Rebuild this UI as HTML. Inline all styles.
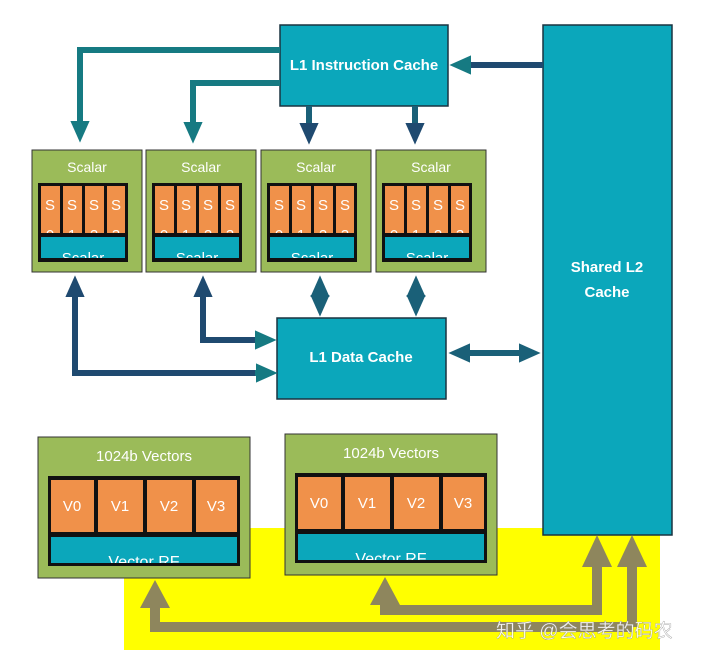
<!DOCTYPE html>
<html><head><meta charset="utf-8"><style>
html,body{margin:0;padding:0;background:#fff;}
svg{display:block;font-family:"Liberation Sans","Noto Sans CJK SC",sans-serif;}
</style></head><body>
<svg width="712" height="661" viewBox="0 0 712 661" xmlns="http://www.w3.org/2000/svg">
<defs>
<marker id="ta" markerWidth="4" markerHeight="4" refX="2" refY="2" orient="auto" markerUnits="strokeWidth"><path d="M0,0.4 L3.6,2 L0,3.6 z" fill="#167a82"/></marker>
<marker id="tb" markerWidth="4" markerHeight="4" refX="2" refY="2" orient="auto" markerUnits="strokeWidth"><path d="M0,0.4 L3.6,2 L0,3.6 z" fill="#1f4a70"/></marker>
<marker id="tbs" markerWidth="4" markerHeight="4" refX="2" refY="2" orient="auto-start-reverse" markerUnits="strokeWidth"><path d="M0,0.4 L3.6,2 L0,3.6 z" fill="#1a6078"/></marker>
</defs>
<rect x="124" y="528" width="536" height="122" fill="#ffff00"/>
<rect x="543" y="25" width="129" height="510" fill="#0ba7bb" stroke="#1a3340" stroke-width="1.5"/>
<text x="607" y="272" text-anchor="middle" fill="#fff" font-size="15" font-weight="bold">Shared L2</text>
<text x="607" y="297" text-anchor="middle" fill="#fff" font-size="15" font-weight="bold">Cache</text>
<rect x="280" y="25" width="168" height="81" fill="#0ba7bb" stroke="#1a3340" stroke-width="1.5"/>
<text x="364" y="70" text-anchor="middle" fill="#fff" font-size="15" font-weight="bold">L1 Instruction Cache</text>
<rect x="277" y="318" width="169" height="81" fill="#0ba7bb" stroke="#1a3340" stroke-width="1.5"/>
<text x="361" y="362" text-anchor="middle" fill="#fff" font-size="15" font-weight="bold">L1 Data Cache</text>
<g fill="none" stroke-width="6">
<path d="M280,50 H80 V133" stroke="#167a82" marker-end="url(#ta)"/>
<path d="M280,83 H193 V134" stroke="#167a82" marker-end="url(#ta)"/>
<path d="M309,106 V135" stroke="#1a6078" marker-end="url(#tb)"/>
<path d="M415,106 V135" stroke="#1a6078" marker-end="url(#tb)"/>
<path d="M543,65 H459" stroke="#1f4a70" marker-end="url(#ta)"/>
<path d="M458,353 H531" stroke="#1a6078" marker-start="url(#tbs)" marker-end="url(#tbs)"/>
<path d="M320,285 V307" stroke="#1a6078" marker-start="url(#tbs)" marker-end="url(#tbs)"/>
<path d="M416,285 V307" stroke="#1a6078" marker-start="url(#tbs)" marker-end="url(#tbs)"/>
<path d="M268,373 H75 V285" stroke="#1f4a70" marker-end="url(#tb)"/>
<path d="M267,340 H203 V285" stroke="#1f4a70" marker-end="url(#tb)"/>
</g>
<path d="M255,373 H268" stroke="#167a82" stroke-width="6" marker-end="url(#ta)"/>
<path d="M255,340 H267" stroke="#167a82" stroke-width="6" marker-end="url(#ta)"/>
<g id="sc">
<rect x="32" y="150" width="110" height="122" fill="#9bbb59" stroke="#333" stroke-width="1"/>
<text x="87" y="172" text-anchor="middle" fill="#fff" font-size="14">Scalar</text>
<rect x="38" y="183" width="90" height="79" fill="#111"/>
<rect x="41" y="186" width="19" height="47" fill="#f0914a"/>
<rect x="63" y="186" width="19" height="47" fill="#f0914a"/>
<rect x="85" y="186" width="19" height="47" fill="#f0914a"/>
<rect x="107" y="186" width="18" height="47" fill="#f0914a"/>
<g fill="#fff" font-size="15" text-anchor="middle"><text x="50" y="210">S</text><text x="72" y="210">S</text><text x="94" y="210">S</text><text x="116" y="210">S</text>
<text x="50" y="240">0</text><text x="72" y="240">1</text><text x="94" y="240">2</text><text x="116" y="240">3</text></g>
<rect x="40" y="233" width="86" height="4" fill="#111"/>
<rect x="41" y="237" width="84" height="21" fill="#0ba7bb"/>
<svg x="41" y="237" width="84" height="21"><text x="42" y="26" text-anchor="middle" fill="#fff" font-size="15">Scalar</text></svg>
<rect x="38" y="258" width="90" height="4" fill="#111"/>
</g>
<use href="#sc" x="114"/>
<use href="#sc" x="229"/>
<use href="#sc" x="344"/>
<g id="vb">
<rect x="38" y="437" width="212" height="141" fill="#9bbb59" stroke="#333" stroke-width="1"/>
<text x="144" y="461" text-anchor="middle" fill="#fff" font-size="15">1024b Vectors</text>
<rect x="48" y="476" width="192" height="90" fill="#111"/>
<rect x="51" y="480" width="43" height="52" fill="#f0914a"/>
<rect x="98" y="480" width="45" height="52" fill="#f0914a"/>
<rect x="147" y="480" width="45" height="52" fill="#f0914a"/>
<rect x="196" y="480" width="41" height="52" fill="#f0914a"/>
<g fill="#fff" font-size="15" text-anchor="middle"><text x="72" y="511">V0</text><text x="120" y="511">V1</text><text x="169" y="511">V2</text><text x="216" y="511">V3</text></g>
<rect x="51" y="537" width="186" height="26" fill="#0ba7bb"/>
<svg x="51" y="537" width="186" height="26"><text x="93" y="30" text-anchor="middle" fill="#fff" font-size="16">Vector RF</text></svg>
</g>
<use href="#vb" x="247" y="-3"/>
<g fill="none" stroke="#8e865d" stroke-width="10">
<path d="M632,627 V562"/>
<path d="M155,605 V627 H632" />
<path d="M385,602 V610 H597 V562"/>
</g>
<g fill="#8e865d">
<path d="M140,608 L155,580 L170,608 z"/>
<path d="M370,605 L385,577 L400,605 z"/>
<path d="M582,567 L597,535 L612,567 z"/>
<path d="M617,567 L632,535 L647,567 z"/>
</g>
<text x="496" y="637" fill="#fff" fill-opacity="0.9" font-size="19" stroke="#888" stroke-width="0.3">知乎 @会思考的码农</text>
</svg>
</body></html>
